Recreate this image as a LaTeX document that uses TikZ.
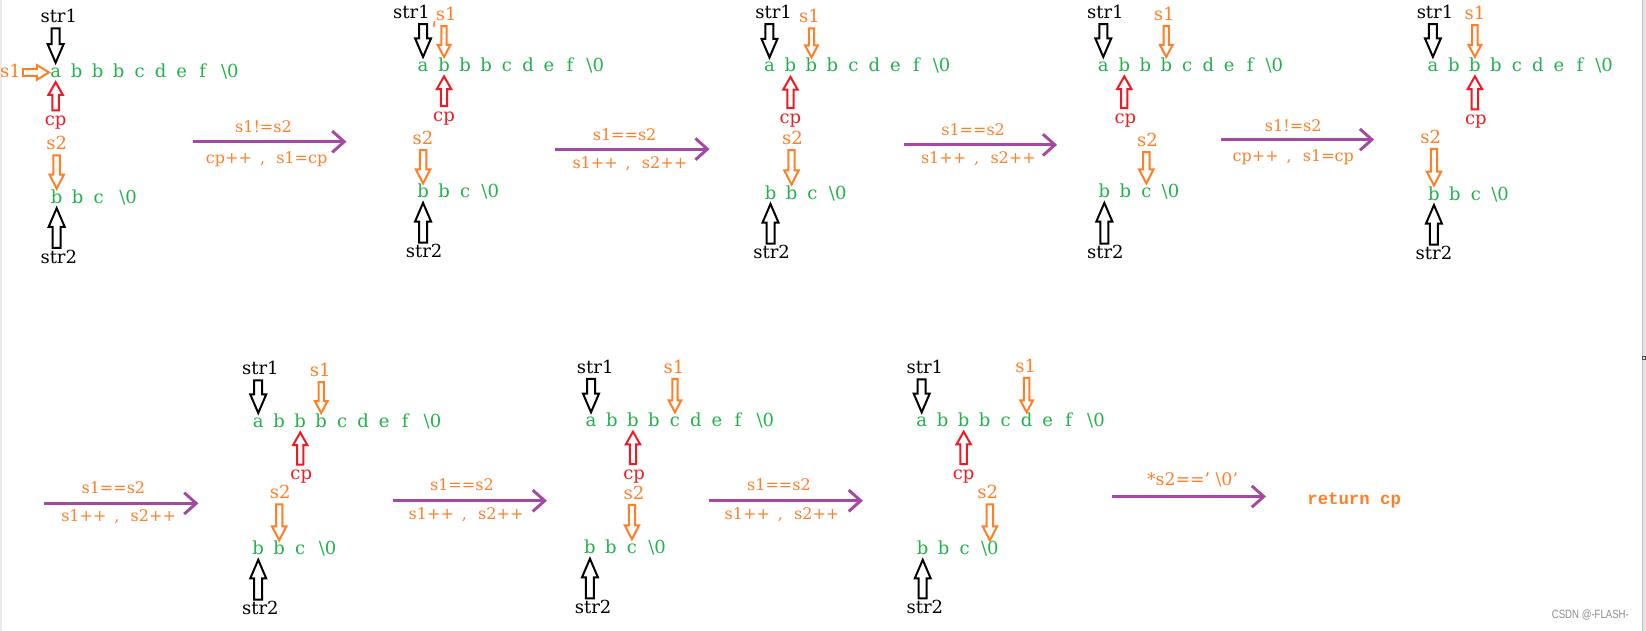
\documentclass[tikz,border=0pt]{standalone}
\usepackage{graphicx}
\usepackage{fontspec}
\setmainfont{DejaVu Serif}
\newfontfamily\retfont{Liberation Mono}
\newfontfamily\wmfont{Liberation Sans}
\usetikzlibrary{arrows.meta,calc}
\definecolor{pgreen}{RGB}{34,177,76}
\definecolor{porange}{RGB}{255,127,39}
\definecolor{pred}{RGB}{237,28,36}
\definecolor{ppurple}{RGB}{163,73,164}
\tikzset{
  ch/.style={font=\fontsize{13.5}{15}\selectfont, text=pgreen, inner sep=0pt, outer sep=1pt, text height=9.9pt, text depth=2.7pt},
  lbl/.style={font=\fontsize{13.5}{15}\selectfont, inner sep=0pt, outer sep=1.5pt, text height=9.9pt, text depth=2.7pt},
  tlbl/.style={font=\fontsize{12}{14}\selectfont, text=porange, inner sep=0pt, text height=8.8pt, text depth=2.4pt},
  blk/.style={draw=black, line width=1.5pt, fill=white, line join=miter},
  org/.style={draw=porange, line width=1.5pt, fill=white, line join=miter},
  rd/.style={draw=pred, line width=1.5pt, fill=white, line join=miter},
  trans/.style={draw=ppurple, line width=2.2pt, -{Straight Barb[length=9pt, width=16pt]}},
}
% vertical hollow block arrow: style, tail point, tip point, shaft half width, head half width, head length
\newcommand\blockV[6]{\draw[#1] let \p1=#2, \p2=#3, \n1={sign(\y1-\y2)} in
  ({\x2-#4},\y1) -- ({\x2+#4},\y1) -- ({\x2+#4},{\y2+(\n1)*#6}) -- ({\x2+#5},{\y2+(\n1)*#6})
  -- (\x2,\y2) -- ({\x2-#5},{\y2+(\n1)*#6}) -- ({\x2-#4},{\y2+(\n1)*#6}) -- cycle;}
% horizontal hollow block arrow
\newcommand\blockH[6]{\draw[#1] let \p1=#2, \p2=#3, \n1={sign(\x1-\x2)} in
  (\x1,{\y2-#4}) -- (\x1,{\y2+#4}) -- ({\x2+(\n1)*#6},{\y2+#4}) -- ({\x2+(\n1)*#6},{\y2+#5})
  -- (\x2,\y2) -- ({\x2+(\n1)*#6},{\y2-#5}) -- ({\x2+(\n1)*#6},{\y2-#4}) -- cycle;}
\newcommand\charrow[4]{\foreach \ltr [count=\idx from 0] in {#4}{\node[ch] (#1\idx) at ({#2+20*\idx},#3) {\ltr};}}
\newcommand\blkarr[2]{\blockV{blk}{#1}{#2}{3pt}{6pt}{14pt}}
\newcommand\redarr[2]{\blockV{rd}{#1}{#2}{2.4pt}{5.4pt}{9.5pt}}
\newcommand\orgarr[2]{\blockV{org}{#1}{#2}{2.4pt}{5.4pt}{10.5pt}}
\newcommand\orgsmall[2]{\blockV{org}{#1}{#2}{2pt}{4.8pt}{9pt}}
\newcommand\gapA{\hspace{0.5em}}
\newcommand\gapB{\hspace{0.7em}}
\begin{document}
\begin{tikzpicture}[x=0.7873pt, y=-0.7873pt]
\useasboundingbox (0,0) rectangle (1568,601);
\fill[white] (0,0) rectangle (1568,601);
\fill[black!8] (0,0) rectangle (1.5,601);
\fill[black!10] (1564,0) rectangle (1568,601);
\draw[black!25, line width=0.4pt] (1564,0) -- (1564,601);
\draw[black!70, line width=0.5pt] (1564.6,339.5) rectangle (1567.6,342.5);

% ---------- Panel 1 ----------
\node[lbl] (str1P1) at (56,17) {str1};
\node[lbl, text=porange] (s1P1) at (10,69) {s1};
\charrow{P1a}{53}{69}{a,b,b,b,c,d,e,f}
\node[ch] (P1a8) at (219,69) {\textbackslash0};
\node[lbl, text=pred] (cpP1) at (53,115) {cp};
\node[lbl, text=porange] (s2P1) at (54,138) {s2};
\charrow{P1b}{54}{189}{b,b,c}
\node[ch] (P1b3) at (122,189) {\textbackslash0};
\node[lbl] (str2P1) at (56,246) {str2};
\blkarr{(str1P1.south)}{(P1a0.north)}
\blockH{org}{(s1P1.east)}{(P1a0.west)}{2.5pt}{5.5pt}{9pt}
\redarr{(cpP1.north)}{(P1a0.south)}
\orgarr{(s2P1.south)}{(P1b0.north)}
\blkarr{(str2P1.north)}{(P1b0.south)}
\coordinate (T1s) at (184,135); \coordinate (T1e) at (330,135);
\draw[trans] (T1s) -- (T1e);
\node[tlbl] (T1u) at (251,122) {s1!=s2};
\node[tlbl] (T1d) at (254,152) {cp++\gapA,\gapB s1=cp};

% ---------- Panel 2 ----------
\node[lbl] (str1P2) at (392,13) {str1};
\draw[porange, line width=1.1pt] (413.8,20) -- (413.3,25.5);
\node[lbl, text=porange] (s1P2) at (425,15) {s1};
\charrow{P2a}{403}{63.5}{a,b,b,b,c,d,e,f}
\node[ch] (P2a8) at (567,63.5) {\textbackslash0};
\node[lbl, text=pred] (cpP2) at (423,111) {cp};
\node[lbl, text=porange] (s2P2) at (403,133) {s2};
\charrow{P2b}{403}{184}{b,b,c}
\node[ch] (P2b3) at (467,184) {\textbackslash0};
\node[lbl] (str2P2) at (404,241) {str2};
\blkarr{(str1P2.south)}{(P2a0.north)}
\orgsmall{(s1P2.south)}{(P2a1.north)}
\redarr{(cpP2.north)}{(P2a1.south)}
\orgarr{(s2P2.south)}{(P2b0.north)}
\blkarr{(str2P2.north)}{(P2b0.south)}
\coordinate (T2s) at (529,142); \coordinate (T2e) at (676,142);
\draw[trans] (T2s) -- (T2e);
\node[tlbl] (T2u) at (595,129.5) {s1==s2};
\node[tlbl] (T2d) at (600,156) {s1++\gapA,\gapB s2++};

% ---------- Panel 3 ----------
\node[lbl] (str1P3) at (737,13) {str1};
\node[lbl, text=porange] (s1P3) at (771,17) {s1};
\charrow{P3a}{733}{64}{a,b,b,b,c,d,e,f}
\node[ch] (P3a8) at (897,64) {\textbackslash0};
\node[lbl, text=pred] (cpP3) at (753,113) {cp};
\node[lbl, text=porange] (s2P3) at (755,133) {s2};
\charrow{P3b}{734}{185}{b,b,c}
\node[ch] (P3b3) at (798,185) {\textbackslash0};
\node[lbl] (str2P3) at (735,242) {str2};
\blkarr{(str1P3.south)}{(P3a0.north)}
\orgsmall{(s1P3.south)}{(P3a2.north)}
\redarr{(cpP3.north)}{(P3a1.south)}
\orgarr{(s2P3.south)}{(P3b1.north)}
\blkarr{(str2P3.north)}{(P3b0.south)}
\coordinate (T3s) at (861,138); \coordinate (T3e) at (1007,138);
\draw[trans] (T3s) -- (T3e);
\node[tlbl] (T3u) at (927,125) {s1==s2};
\node[tlbl] (T3d) at (932,152) {s1++\gapA,\gapB s2++};

% ---------- Panel 4 ----------
\node[lbl] (str1P4) at (1053,13) {str1};
\node[lbl, text=porange] (s1P4) at (1109,15) {s1};
\charrow{P4a}{1051}{63.5}{a,b,b,b,c,d,e,f}
\node[ch] (P4a8) at (1214,63.5) {\textbackslash0};
\node[lbl, text=pred] (cpP4) at (1072,113) {cp};
\node[lbl, text=porange] (s2P4) at (1093,135) {s2};
\charrow{P4b}{1052}{184}{b,b,c}
\node[ch] (P4b3) at (1115,184) {\textbackslash0};
\node[lbl] (str2P4) at (1053,242) {str2};
\blkarr{(str1P4.south)}{(P4a0.north)}
\orgsmall{(s1P4.south)}{(P4a3.north)}
\redarr{(cpP4.north)}{(P4a1.south)}
\orgarr{(s2P4.south)}{(P4b2.north)}
\blkarr{(str2P4.north)}{(P4b0.south)}
\coordinate (T4s) at (1163,133); \coordinate (T4e) at (1309,133);
\draw[trans] (T4s) -- (T4e);
\node[tlbl] (T4u) at (1232,121) {s1!=s2};
\node[tlbl] (T4d) at (1232,150) {cp++\gapA,\gapB s1=cp};

% ---------- Panel 5 ----------
\node[lbl] (str1P5) at (1367,13) {str1};
\node[lbl, text=porange] (s1P5) at (1405,14) {s1};
\charrow{P5a}{1365}{63.5}{a,b,b,b,c,d,e,f}
\node[ch] (P5a8) at (1528,63.5) {\textbackslash0};
\node[lbl, text=pred] (cpP5) at (1406,114) {cp};
\node[lbl, text=porange] (s2P5) at (1363,132) {s2};
\charrow{P5b}{1366}{186}{b,b,c}
\node[ch] (P5b3) at (1429,186) {\textbackslash0};
\node[lbl] (str2P5) at (1366,243) {str2};
\blkarr{(str1P5.south)}{(P5a0.north)}
\orgsmall{(s1P5.south)}{(P5a2.north)}
\redarr{(cpP5.north)}{(P5a2.south)}
\orgarr{(s2P5.south)}{(P5b0.north)}
\blkarr{(str2P5.north)}{(P5b0.south)}

% ---------- Panel 6 ----------
\coordinate (T5s) at (42,479.5); \coordinate (T5e) at (189,479.5);
\draw[trans] (T5s) -- (T5e);
\node[tlbl] (T5u) at (108,466) {s1==s2};
\node[tlbl] (T5d) at (113,492.3) {s1++\gapA,\gapB s2++};
\node[lbl] (str1P6) at (248,352.5) {str1};
\node[lbl, text=porange] (s1P6) at (305,354) {s1};
\charrow{P6a}{246}{402.7}{a,b,b,b,c,d,e,f}
\node[ch] (P6a8) at (412,402.7) {\textbackslash0};
\node[lbl, text=pred] (cpP6) at (287,452.5) {cp};
\node[lbl, text=porange] (s2P6) at (267,470.6) {s2};
\charrow{P6b}{246}{524}{b,b,c}
\node[ch] (P6b3) at (312,524) {\textbackslash0};
\node[lbl] (str2P6) at (248,581) {str2};
\blkarr{(str1P6.south)}{(P6a0.north)}
\orgsmall{(s1P6.south)}{(P6a3.north)}
\redarr{(cpP6.north)}{(P6a2.south)}
\orgarr{(s2P6.south)}{(P6b1.north)}
\blkarr{(str2P6.north)}{(P6b0.south)}

% ---------- Panel 7 ----------
\coordinate (T6s) at (374,477); \coordinate (T6e) at (521,477);
\draw[trans] (T6s) -- (T6e);
\node[tlbl] (T6u) at (440,463.6) {s1==s2};
\node[tlbl] (T6d) at (444,490.6) {s1++\gapA,\gapB s2++};
\node[lbl] (str1P7) at (567,351) {str1};
\node[lbl, text=porange] (s1P7) at (642,351) {s1};
\charrow{P7a}{563}{402}{a,b,b,b,c,d,e,f}
\node[ch] (P7a8) at (729,402) {\textbackslash0};
\node[lbl, text=pred] (cpP7) at (604,452) {cp};
\node[lbl, text=porange] (s2P7) at (604,471) {s2};
\charrow{P7b}{562}{523}{b,b,c}
\node[ch] (P7b3) at (626,523) {\textbackslash0};
\node[lbl] (str2P7) at (565,580) {str2};
\blkarr{(str1P7.south)}{(P7a0.north)}
\orgsmall{(s1P7.south)}{(P7a4.north)}
\redarr{(cpP7.north)}{(P7a2.south)}
\orgarr{(s2P7.south)}{(P7b2.north)}
\blkarr{(str2P7.north)}{(P7b0.south)}

% ---------- Panel 8 ----------
\coordinate (T7s) at (675,477); \coordinate (T7e) at (822,477);
\draw[trans] (T7s) -- (T7e);
\node[tlbl] (T7u) at (742,463.5) {s1==s2};
\node[tlbl] (T7d) at (745,490.5) {s1++\gapA,\gapB s2++};
\node[lbl] (str1P8) at (881,351.5) {str1};
\node[lbl, text=porange] (s1P8) at (977,350) {s1};
\charrow{P8a}{878}{402}{a,b,b,b,c,d,e,f}
\node[ch] (P8a8) at (1044,402) {\textbackslash0};
\node[lbl, text=pred] (cpP8) at (918,452) {cp};
\node[lbl, text=porange] (s2P8) at (941,470.6) {s2};
\charrow{P8b}{879}{524}{b,b,c}
\node[ch] (P8b3) at (943,524) {\textbackslash0};
\node[lbl] (str2P8) at (881,580) {str2};
\blkarr{(str1P8.south)}{(P8a0.north)}
\orgsmall{(s1P8.south)}{(P8a5.north)}
\redarr{(cpP8.north)}{(P8a2.south)}
\orgarr{(s2P8.south)}{(P8b3.north)}
\blkarr{(str2P8.north)}{(P8b0.south)}

% ---------- final ----------
\coordinate (T8s) at (1059,473); \coordinate (T8e) at (1206,473);
\draw[trans] (T8s) -- (T8e);
\node[tlbl, font=\fontsize{13}{15}\selectfont] (T8u) at (1136,458) {*s2==’ \textbackslash0’};
\node[font=\retfont\bfseries\fontsize{13}{15}\selectfont, text=porange, inner sep=0pt] (ret) at (1290,477) {return cp};
\node[font=\wmfont\fontsize{9}{10}\selectfont, text=black!45, inner sep=0pt] (wm) at (1515,586) {\scalebox{0.8}[1]{CSDN @-FLASH-}};
\end{tikzpicture}
\end{document}
